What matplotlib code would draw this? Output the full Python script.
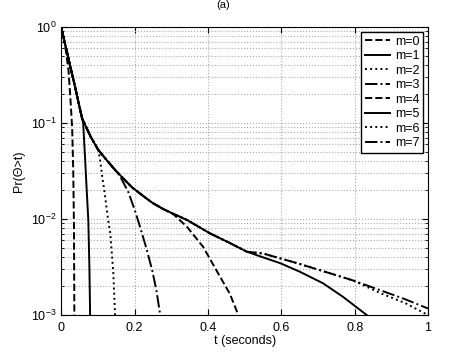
import numpy as np
import matplotlib
matplotlib.use('Agg')
import matplotlib.pyplot as plt
from matplotlib.ticker import FixedLocator, FixedFormatter, LogLocator, NullFormatter

plt.rcParams['font.family'] = ['Liberation Sans', 'DejaVu Sans']

# shared part of the curves (m >= 1 all follow this before they drop off)
trunk_t = [0.0, 0.02, 0.04, 0.057, 0.08, 0.101, 0.125, 0.147, 0.17, 0.193,
           0.22, 0.248, 0.275, 0.302, 0.343, 0.406, 0.46, 0.506]
trunk_p = [1.0, 0.468, 0.219, 0.112, 0.0724, 0.0525, 0.0407, 0.0324, 0.0263,
           0.0214, 0.0178, 0.0148, 0.0129, 0.0115, 0.00977, 0.00708, 0.00562,
           0.00457]

# m=0 leaves right away
m0_t = [0.0, 0.01, 0.02, 0.025, 0.03, 0.033, 0.035, 0.036]
m0_p = [1.0, 0.676, 0.355, 0.186, 0.089, 0.0316, 0.0079, 0.001]

# tails of the other curves, after they leave the trunk
m1_tail_t = [0.06, 0.065, 0.07, 0.074, 0.077, 0.079]
m1_tail_p = [0.1, 0.0447, 0.019, 0.0098, 0.00316, 0.001]

m2_tail_t = [0.106, 0.112, 0.12, 0.128, 0.134, 0.142, 0.147]
m2_tail_p = [0.0417, 0.0275, 0.017, 0.0098, 0.00708, 0.00282, 0.001]

m3_tail_t = [0.16, 0.183, 0.2, 0.215, 0.232, 0.248, 0.26, 0.27]
m3_tail_p = [0.0282, 0.0191, 0.0126, 0.0083, 0.0050, 0.00295, 0.00178, 0.001]

m4_tail_t = [0.306, 0.343, 0.387, 0.433, 0.46, 0.483]
m4_tail_p = [0.0112, 0.0083, 0.00513, 0.00251, 0.00166, 0.001]

m5_tail_t = [0.551, 0.597, 0.651, 0.714, 0.768, 0.806, 0.833]
m5_tail_p = [0.00398, 0.00347, 0.00282, 0.00214, 0.00155, 0.0012, 0.001]

m6_tail_t = [0.551, 0.643, 0.72, 0.796, 0.869, 0.94, 1.0]
m6_tail_p = [0.00437, 0.00347, 0.00282, 0.00229, 0.0017, 0.00132, 0.001]

m7_tail_t = [0.551, 0.643, 0.72, 0.796, 0.869, 0.94, 1.0]
m7_tail_p = [0.00437, 0.00347, 0.00282, 0.00229, 0.00182, 0.00145, 0.00117]

# how many trunk points each curve keeps
keep = [None, 4, 6, 8, 13, 18, 18, 18]
tails = [None, (m1_tail_t, m1_tail_p), (m2_tail_t, m2_tail_p),
         (m3_tail_t, m3_tail_p), (m4_tail_t, m4_tail_p),
         (m5_tail_t, m5_tail_p), (m6_tail_t, m6_tail_p),
         (m7_tail_t, m7_tail_p)]
labels = ['m=%d' % m for m in range(8)]
styles = ['--', '-', ':', '-.', '--', '-', ':', '-.']

fig = plt.figure(figsize=(4.74, 3.54), dpi=100)
ax = fig.add_axes([0.129, 0.110, 0.774, 0.814])

for m in range(8):
    if m == 0:
        t, p = m0_t, m0_p
    else:
        k = keep[m]
        t = trunk_t[:k] + tails[m][0]
        p = trunk_p[:k] + tails[m][1]
    ax.plot(t, p, styles[m], color='black', lw=1.4, label=labels[m])

ax.set_yscale('log')
ax.set_xlim(0, 1)
ax.set_ylim(1e-3, 1)

ax.xaxis.set_major_locator(FixedLocator([0, 0.2, 0.4, 0.6, 0.8, 1]))
ax.xaxis.set_major_formatter(FixedFormatter(['0', '0.2', '0.4', '0.6', '0.8', '1']))
ax.yaxis.set_major_locator(LogLocator(base=10, numticks=10))
ax.yaxis.set_minor_locator(LogLocator(base=10, subs=np.arange(2, 10), numticks=10))
ax.yaxis.set_minor_formatter(NullFormatter())

ax.grid(True, which='major', linestyle=':', color='#aaaaaa', lw=0.8)
ax.grid(True, which='minor', axis='y', linestyle=':', color='#aaaaaa', lw=0.8)

ax.tick_params(which='both', direction='in', top=True, right=True, labelsize=9)
ax.tick_params(which='major', length=4)
ax.tick_params(which='minor', length=2)
ax.tick_params(axis='x', pad=5)

ax.set_xlabel('t (seconds)', fontsize=9, labelpad=1)
ax.set_ylabel('Pr(\u0398>t)', fontsize=9, labelpad=4)

leg = ax.legend(loc='upper right', fontsize=9, frameon=True, fancybox=False,
                edgecolor='black', framealpha=1, handlelength=2.0,
                handletextpad=0.4, labelspacing=0.2, borderpad=0.3,
                borderaxespad=0.4)
leg.get_frame().set_linewidth(1.0)

fig.text(0.47, 0.999, '(a)', ha='center', va='top', fontsize=8)

fig.savefig('out.png', dpi=100)
